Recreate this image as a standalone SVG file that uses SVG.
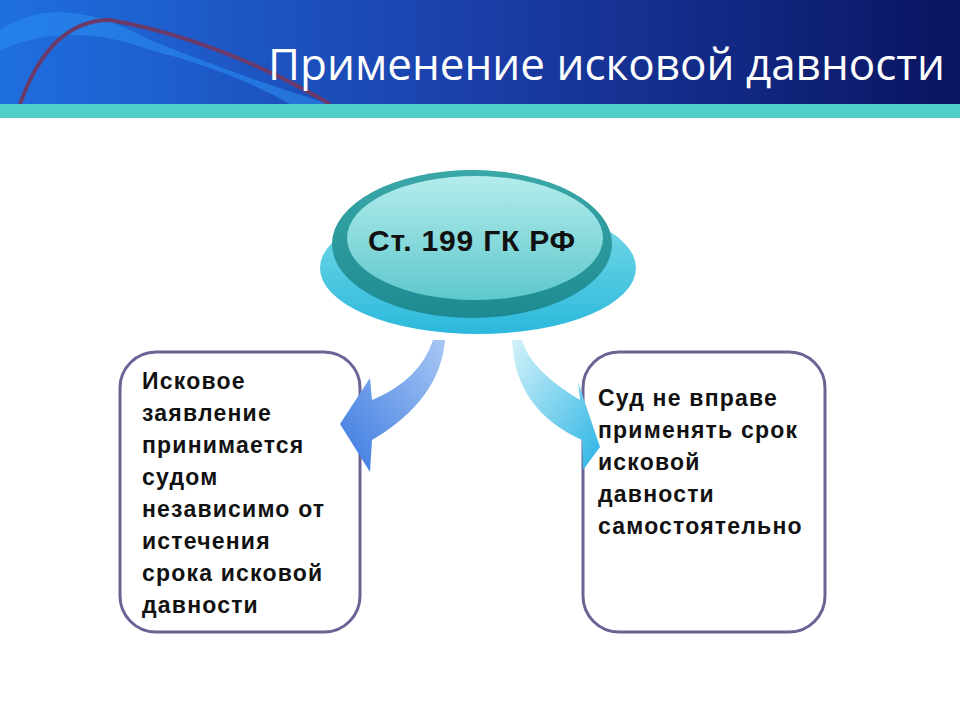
<svg xmlns="http://www.w3.org/2000/svg" width="960" height="720" viewBox="0 0 960 720">
<defs>
<linearGradient id="hdr" x1="0" y1="0" x2="1" y2="0"><stop offset="0" stop-color="#1f6fe0"/><stop offset="0.5" stop-color="#1a3ea8"/><stop offset="1" stop-color="#0a1460"/></linearGradient>
<linearGradient id="base" x1="0" y1="0" x2="0" y2="1"><stop offset="0" stop-color="#7fdde8"/><stop offset="1" stop-color="#2bb8dc"/></linearGradient>
<linearGradient id="top" x1="0" y1="0" x2="0" y2="1"><stop offset="0" stop-color="#3aa8a8"/><stop offset="1" stop-color="#1d8a92"/></linearGradient>
<linearGradient id="inner" x1="0" y1="0" x2="0" y2="1"><stop offset="0" stop-color="#b4ecec"/><stop offset="1" stop-color="#5ec8cc"/></linearGradient>
<linearGradient id="la" x1="1" y1="0" x2="0" y2="1"><stop offset="0" stop-color="#a8c8f4"/><stop offset="1" stop-color="#3a78e0"/></linearGradient>
<linearGradient id="ra" x1="0" y1="0" x2="1" y2="1"><stop offset="0" stop-color="#d4f2fa"/><stop offset="1" stop-color="#2ab4e4"/></linearGradient>
<style>.box{fill:#fff;stroke:#6b6296;stroke-width:3}.t{font-family:"Liberation Sans",Arial,sans-serif;font-weight:bold;font-size:23px;letter-spacing:1.2px;fill:#111}</style>
</defs>
<rect width="960" height="720" fill="#fff"/>
<g id="header">
<rect width="960" height="104" fill="url(#hdr)"/>
<path d="M0 30 Q60 -10 150 40 Q250 80 330 104 L290 104 Q230 70 150 50 Q70 20 0 50Z" fill="#2a8cf0" opacity="0.6"/>
<path d="M20 104 Q50 20 110 20 Q220 40 330 104" fill="none" stroke="#6a3a6a" stroke-width="4"/>
<rect y="104" width="960" height="14" fill="#4fcfc9"/>
<text x="268" y="80" font-family="'Open Sans','DejaVu Sans',sans-serif" font-size="44" textLength="677" lengthAdjust="spacingAndGlyphs" fill="#fff">Применение исковой давности</text>
</g>
<g id="left-box"><rect class="box" x="120" y="352" width="240" height="280" rx="36"/>
<text class="t"><tspan x="142" y="389">Исковое</tspan><tspan x="142" y="421">заявление</tspan><tspan x="142" y="453">принимается</tspan><tspan x="142" y="485">судом</tspan><tspan x="142" y="517">независимо от</tspan><tspan x="142" y="549">истечения</tspan><tspan x="142" y="581">срока исковой</tspan><tspan x="142" y="613">давности</tspan></text></g>
<g id="right-box"><rect class="box" x="583" y="352" width="242" height="280" rx="36"/>
<text class="t"><tspan x="598" y="406">Суд не вправе</tspan><tspan x="598" y="438">применять срок</tspan><tspan x="598" y="470">исковой</tspan><tspan x="598" y="502">давности</tspan><tspan x="598" y="534">самостоятельно</tspan></text></g>
<g id="connectors">
<path d="M433 340 L445 340 Q440 400 372 440 L370 472 L340 424 L370 378 L372 400 Q420 380 433 340Z" fill="url(#la)"/>
<path d="M512 340 L522 340 Q530 370 580 400 L578 382 L600 447 L583 470 L582 440 Q515 410 512 340Z" fill="url(#ra)"/>
</g>
<g id="center">
<ellipse cx="478" cy="268" rx="158" ry="66" fill="url(#base)"/>
<ellipse cx="472" cy="244" rx="140" ry="74" fill="url(#top)"/>
<ellipse cx="475" cy="238" rx="128" ry="62" fill="url(#inner)"/>
<text x="472" y="251" text-anchor="middle" font-family="'Liberation Sans',Arial,sans-serif" font-weight="bold" font-size="30" letter-spacing="0.8" fill="#111">Ст. 199 ГК РФ</text>
</g>
</svg>
